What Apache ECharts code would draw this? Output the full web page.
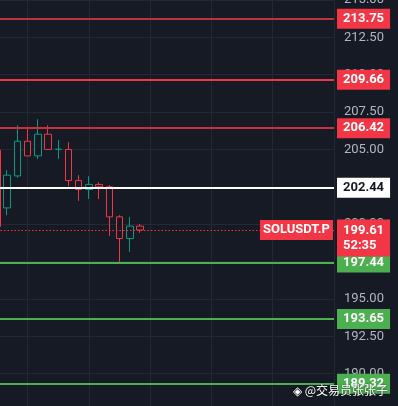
<!DOCTYPE html>
<html>
<head>
<meta charset="utf-8">
<script src="https://cdn.jsdelivr.net/npm/echarts@6/dist/echarts.min.js"></script>
<style>
  html, body { margin: 0; padding: 0; background: #161a25; }
  #main { width: 398px; height: 406px; }
</style>
</head>
<body>
<div id="main"></div>
<script>
// 1h candles, SOLUSDT.P
var times = ['06:00', '07:00', '08:00', '09:00', '10:00', '11:00', '12:00', '13:00', '14:00', '15:00',
    '16:00', '17:00', '18:00', '19:00', '20:00', '21:00', '22:00', '23:00', '00:00', '01:00',
    '02:00', '03:00', '04:00', '05:00', '06:00', '07:00', '08:00', '09:00', '10:00', '11:00',
    '12:00', '13:00', '14:00', '15:00'];
// [open, close, low, high]
var candles = [
    [204.95, 199.85, 199.60, 205.30],
    [201.09, 203.28, 200.60, 203.61],
    [203.23, 205.55, 203.12, 206.62],
    [205.55, 204.57, 204.57, 206.44],
    [204.57, 206.02, 204.37, 207.02],
    [206.02, 205.00, 205.00, 206.62],
    [205.00, 205.02, 204.37, 205.62],
    [205.00, 202.92, 202.54, 205.48],
    [202.92, 202.32, 201.56, 203.28],
    [202.32, 202.66, 201.69, 203.21],
    [202.66, 202.50, 201.69, 202.81],
    [202.50, 200.49, 199.22, 202.61],
    [200.49, 199.04, 197.48, 200.60],
    [199.04, 199.87, 198.15, 200.49],
    [199.87, 199.61, 199.42, 200.00]
];
var resistance = [213.75, 209.66, 206.42];
var pivot = [202.44];
var support = [197.44, 193.65, 189.32];
var lastPrice = 199.61;
var countdown = '52:35';
var symbol = 'SOLUSDT.P';

var bg = '#161a25';
var red = '#f23645';
var green = '#089981';
var resColors = ['#b9343f', '#f23645', '#c9303c'];

function levelLine(v, lineColor, boxColor, textColor) {
    return {
        yAxis: v,
        lineStyle: { color: lineColor, width: 2, type: 'solid' },
        label: {
            show: true,
            position: 'end',
            distance: 3,
            formatter: v.toFixed(2),
            color: textColor,
            backgroundColor: boxColor,
            padding: [4, 6, 3, 6],
            fontSize: 13,
            fontWeight: 'bold',
            fontFamily: 'Roboto'
        }
    };
}

var lines = [];
resistance.forEach(function (v, i) {
    lines.push(levelLine(v, resColors[i], red, '#fff'));
});
pivot.forEach(function (v) {
    lines.push(levelLine(v, '#ffffff', '#ffffff', '#131722'));
});
support.forEach(function (v) {
    lines.push(levelLine(v, '#4caf50', '#4caf50', '#fff'));
});
// last price line
lines.push({
    yAxis: lastPrice,
    lineStyle: { color: red, width: 1, type: [1.5, 2] },
    label: {
        show: true,
        position: 'end',
        distance: 3,
        formatter: lastPrice.toFixed(2) + '\n' + countdown,
        color: '#fff',
        backgroundColor: red,
        padding: [4, 6, 3, 6],
        lineHeight: 15,
        fontSize: 13,
        fontWeight: 'bold',
        fontFamily: 'Roboto',
        offset: [0, 8]
    }
});
lines.push({
    yAxis: lastPrice,
    lineStyle: { color: 'transparent', width: 1 },
    label: {
        show: true,
        position: 'insideEnd',
        distance: 1,
        formatter: symbol,
        color: '#fff',
        backgroundColor: red,
        padding: [4, 3, 3, 3],
        fontSize: 13,
        fontWeight: 'bold',
        fontFamily: 'Roboto'
    }
});

var chart = echarts.init(document.getElementById('main'));
var option = {
    backgroundColor: bg,
    animation: false,
    grid: { left: -3, right: 64, top: 0, bottom: -5, outerBoundsMode: 'none', containLabel: false },
    xAxis: {
        type: 'category',
        data: times,
        boundaryGap: false,
        axisLine: { show: false },
        axisTick: { show: false },
        axisLabel: { show: false },
        splitLine: {
            show: true,
            interval: function (index) { return index % 6 === 3; },
            lineStyle: { color: '#242833', width: 1 }
        }
    },
    yAxis: {
        type: 'value',
        position: 'right',
        min: 187.5,
        max: 215,
        interval: 2.5,
        axisLine: { show: false },
        axisTick: { show: false },
        axisLabel: {
            color: '#b2b5be',
            fontSize: 13,
            fontFamily: 'Roboto',
            margin: 10,
            showMaxLabel: true,
            showMinLabel: false,
            formatter: function (v) { return v.toFixed(2); }
        },
        splitLine: { lineStyle: { color: '#242833', width: 1 } }
    },
    series: [{
        type: 'candlestick',
        zlevel: 1,
        data: candles,
        barWidth: 7,
        itemStyle: {
            color: bg,
            color0: bg,
            borderColor: green,
            borderColor0: red,
            borderWidth: 1
        },
        markLine: {
            silent: true,
            symbol: 'none',
            zlevel: 1,
            z: 10,
            data: lines
        }
    }],
    graphic: [{
        type: 'text',
        right: 10,
        bottom: 10,
        zlevel: 2,
        style: {
            text: '◈ @交易员张张子',
            fill: '#ffffff',
            font: '12px "Noto Sans CJK SC"',
            textShadowColor: 'rgba(0,0,0,0.8)',
            textShadowBlur: 2
        }
    }]
};
chart.setOption(option);
</script>
</body>
</html>
